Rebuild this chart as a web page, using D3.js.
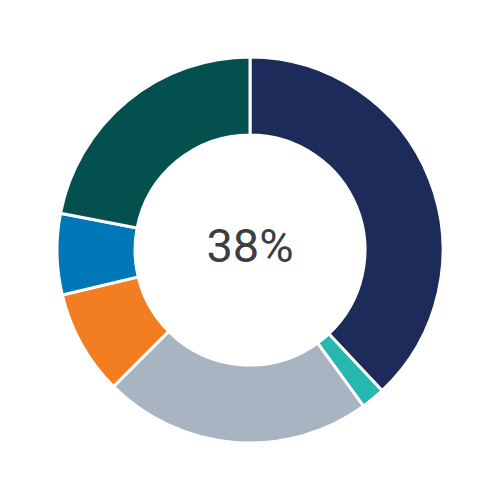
<!DOCTYPE html>
<html>
<head>
<meta charset="utf-8">
<script src="https://cdn.jsdelivr.net/npm/d3@7"></script>
<style>
  body { margin: 0; background: #fff; }
</style>
</head>
<body>
<svg id="donut"></svg>
<script>
// segments, clockwise from 12 o'clock
const categories = ["A", "B", "C", "D", "E", "F"];
const values = [38, 2, 22.5, 8.75, 6.8, 21.95];
const colors = ["#1c2b5a", "#26b8b0", "#a9b4c2", "#f27e21", "#0077b6", "#03504f"];
const centerLabel = "38%";

function drawDonut() {
    const width = 500, height = 500;
    const outerR = 193, innerR = 115;

    const svg = d3.select("#donut")
        .attr("width", width)
        .attr("height", height);

    const g = svg.append("g")
        .attr("transform", `translate(${width / 2},${height / 2})`);

    const color = d3.scaleOrdinal().domain(categories).range(colors);

    const pie = d3.pie().sort(null).value(d => d.value);
    const arc = d3.arc().innerRadius(innerR).outerRadius(outerR);

    const data = categories.map((c, i) => ({ key: c, value: values[i] }));

    g.selectAll("path")
        .data(pie(data))
        .enter()
        .append("path")
        .attr("d", arc)
        .attr("fill", d => color(d.data.key))
        .attr("stroke", "#fff")
        .attr("stroke-width", 3);

    // label sits a little above the centre
    g.append("text")
        .attr("text-anchor", "middle")
        .attr("y", -4)
        .attr("dy", "0.35em")
        .attr("font-family", "Roboto, 'Liberation Sans', sans-serif")
        .attr("font-size", 47)
        .attr("fill", "#3a3f44")
        .text(centerLabel);
}

drawDonut();
</script>
</body>
</html>
